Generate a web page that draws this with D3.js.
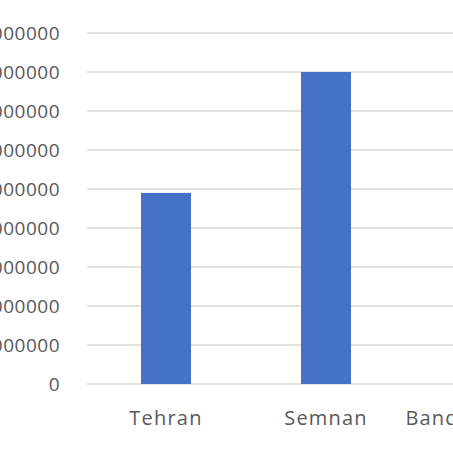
<!DOCTYPE html>
<html><head><meta charset="utf-8">
<script src="https://cdn.jsdelivr.net/npm/d3@7"></script>
<style>body{margin:0;background:#fff}</style></head>
<body><svg id="c" width="453" height="453"></svg>
<script>
const categories = ["Tehran", "Semnan", "Bandar Abbas"];
const values = [4900000, 8000000, 0];
const tickValues = [0,1000000,2000000,3000000,4000000,5000000,6000000,7000000,8000000,9000000];

const svg = d3.select("#c");
const x = d3.scaleBand().domain(categories).range([86, 566]).paddingInner(0.6875).paddingOuter(0.34375);
const y = d3.scaleLinear().domain([0, 9000000]).range([384, 33]);

svg.append("g").selectAll("line").data(tickValues).join("line")
  .attr("x1", 87).attr("x2", 453)
  .attr("y1", d => y(d)).attr("y2", d => y(d))
  .attr("stroke", "#d9d9d9").attr("stroke-width", 1.3);

svg.append("g").selectAll("text").data(tickValues).join("text")
  .attr("x", 60).attr("y", d => y(d)).attr("dy", "0.36em")
  .attr("text-anchor", "end").attr("fill", "#595959")
  .style("font", "19px 'Open Sans', sans-serif").style("letter-spacing", "0.5px")
  .text(d => d);

svg.append("g").selectAll("rect").data(categories).join("rect")
  .attr("x", d => x(d)).attr("width", x.bandwidth())
  .attr("y", (d,i) => y(values[i])).attr("height", (d,i) => 384 - y(values[i]))
  .attr("fill", "#4472C4");

svg.append("g").selectAll("text").data(categories).join("text")
  .attr("x", (d,i) => x(d) + x.bandwidth()/2 - (i === 2 ? 8 : 0)).attr("y", 425)
  .attr("text-anchor", "middle").attr("fill", "#595959")
  .style("font", "20px 'Open Sans', sans-serif").style("letter-spacing", "1.2px")
  .text(d => d);
</script></body></html>
